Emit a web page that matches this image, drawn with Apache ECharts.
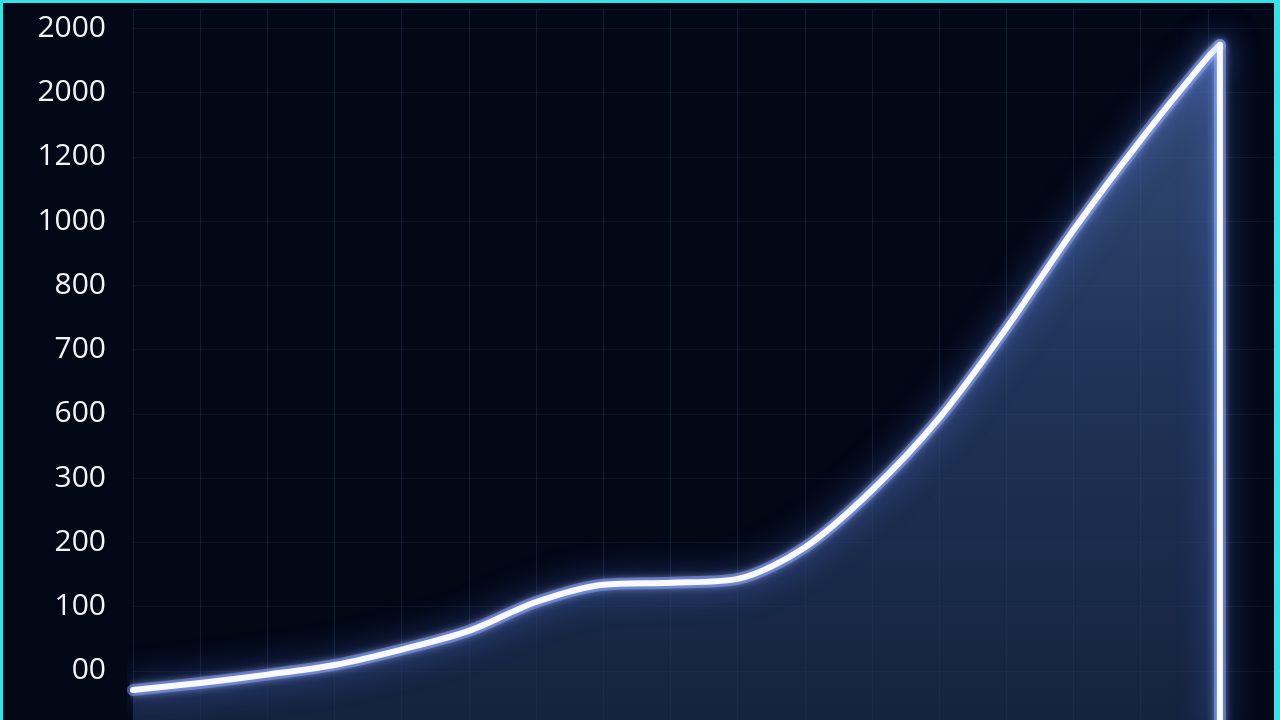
<!DOCTYPE html>
<html>
<head>
<meta charset="utf-8">
<script src="https://cdn.jsdelivr.net/npm/echarts@6/dist/echarts.min.js"></script>
<style>
  html, body { margin: 0; padding: 0; background: #020816; overflow: hidden; width: 1280px; height: 720px; }
  #frame { position: absolute; left: 0; top: 0; width: 1280px; height: 720px; box-sizing: border-box;
           border-top: 3px solid #33e3e6; border-left: 3px solid #33e3e6; border-right: 6px solid #33e3e6; border-bottom: 0; pointer-events: none; z-index: 5; }
  #chart { position: absolute; left: 0; top: 0; width: 1280px; height: 760px; }
</style>
</head>
<body>
<div id="chart"></div>
<div id="frame"></div>
<script>
// Tick labels of the vertical axis, bottom to top (index 0 = "00")
const yTickLabels = ['00', '100', '200', '300', '600', '700', '800', '1000', '1200', '2000', '2000'];
// Sample positions along the horizontal axis
const xSteps = [0, 1, 2, 3, 4, 5, 6, 7, 8, 9, 10, 11, 12, 13, 14, 15, 16, 16.18];
// Curve heights, in tick-label steps
const curveValues = [-0.30, -0.19, -0.06, 0.09, 0.33, 0.62, 1.07, 1.34, 1.37, 1.43, 1.92, 2.81, 3.93, 5.33, 6.86, 8.26, 9.55, 9.74];
// Final vertical drop
const dropX = [16.18, 16.18];
const dropY = [9.74, -1];

const chart = echarts.init(document.getElementById('chart'), null, { renderer: 'canvas' });

const coreStyle = {
  color: '#f8faff', width: 6, cap: 'round', join: 'round',
  shadowColor: 'rgba(175,195,255,1)', shadowBlur: 10
};
const glowStyle = {
  color: 'rgba(115,145,255,0.55)', width: 12, cap: 'round', join: 'round',
  shadowColor: 'rgba(95,125,255,1)', shadowBlur: 32
};

const curveData = xSteps.map((x, i) => [x, curveValues[i]]);
const dropData = dropX.map((x, i) => [x, dropY[i]]);

chart.setOption({
  backgroundColor: '#020816',
  animation: false,
  grid: { left: 133, top: 9, width: 1142, height: 726, containLabel: false },
  xAxis: {
    type: 'value', min: 0, max: 17, interval: 1,
    axisLine: { show: false }, axisTick: { show: false }, axisLabel: { show: false },
    splitLine: { show: true, lineStyle: { color: 'rgba(50,75,100,0.32)', width: 1.2 } }
  },
  yAxis: {
    type: 'value', min: -1, max: 10.3, interval: 1,
    axisLine: { show: false }, axisTick: { show: false },
    axisLabel: {
      show: true, showMaxLabel: false, margin: 27,
      color: '#f2f4f8', fontFamily: 'Open Sans', fontSize: 30,
      formatter: v => { const i = Math.round(v); return (i >= 0 && i < yTickLabels.length) ? yTickLabels[i] : ''; }
    },
    splitLine: { show: true, lineStyle: { color: 'rgba(45,65,90,0.22)', width: 1.2 } }
  },
  series: [
    {
      type: 'line', data: curveData, smooth: 0.3, showSymbol: false, clip: false,
      lineStyle: glowStyle,
      areaStyle: {
        origin: 'start',
        color: new echarts.graphic.LinearGradient(0, 0, 0, 1, [
          { offset: 0, color: '#4a6ba2' },
          { offset: 0.45, color: '#2d4876' },
          { offset: 1, color: '#1c2d4e' }
        ])
      },
      z: 2
    },
    {
      type: 'line', data: dropData, showSymbol: false, clip: false,
      lineStyle: glowStyle, z: 2
    },
    {
      type: 'line', data: curveData, smooth: 0.3, showSymbol: false, clip: false,
      lineStyle: coreStyle, z: 4
    },
    {
      type: 'line', data: dropData, showSymbol: false, clip: false,
      lineStyle: coreStyle, z: 4
    }
  ]
});
</script>
</body>
</html>
